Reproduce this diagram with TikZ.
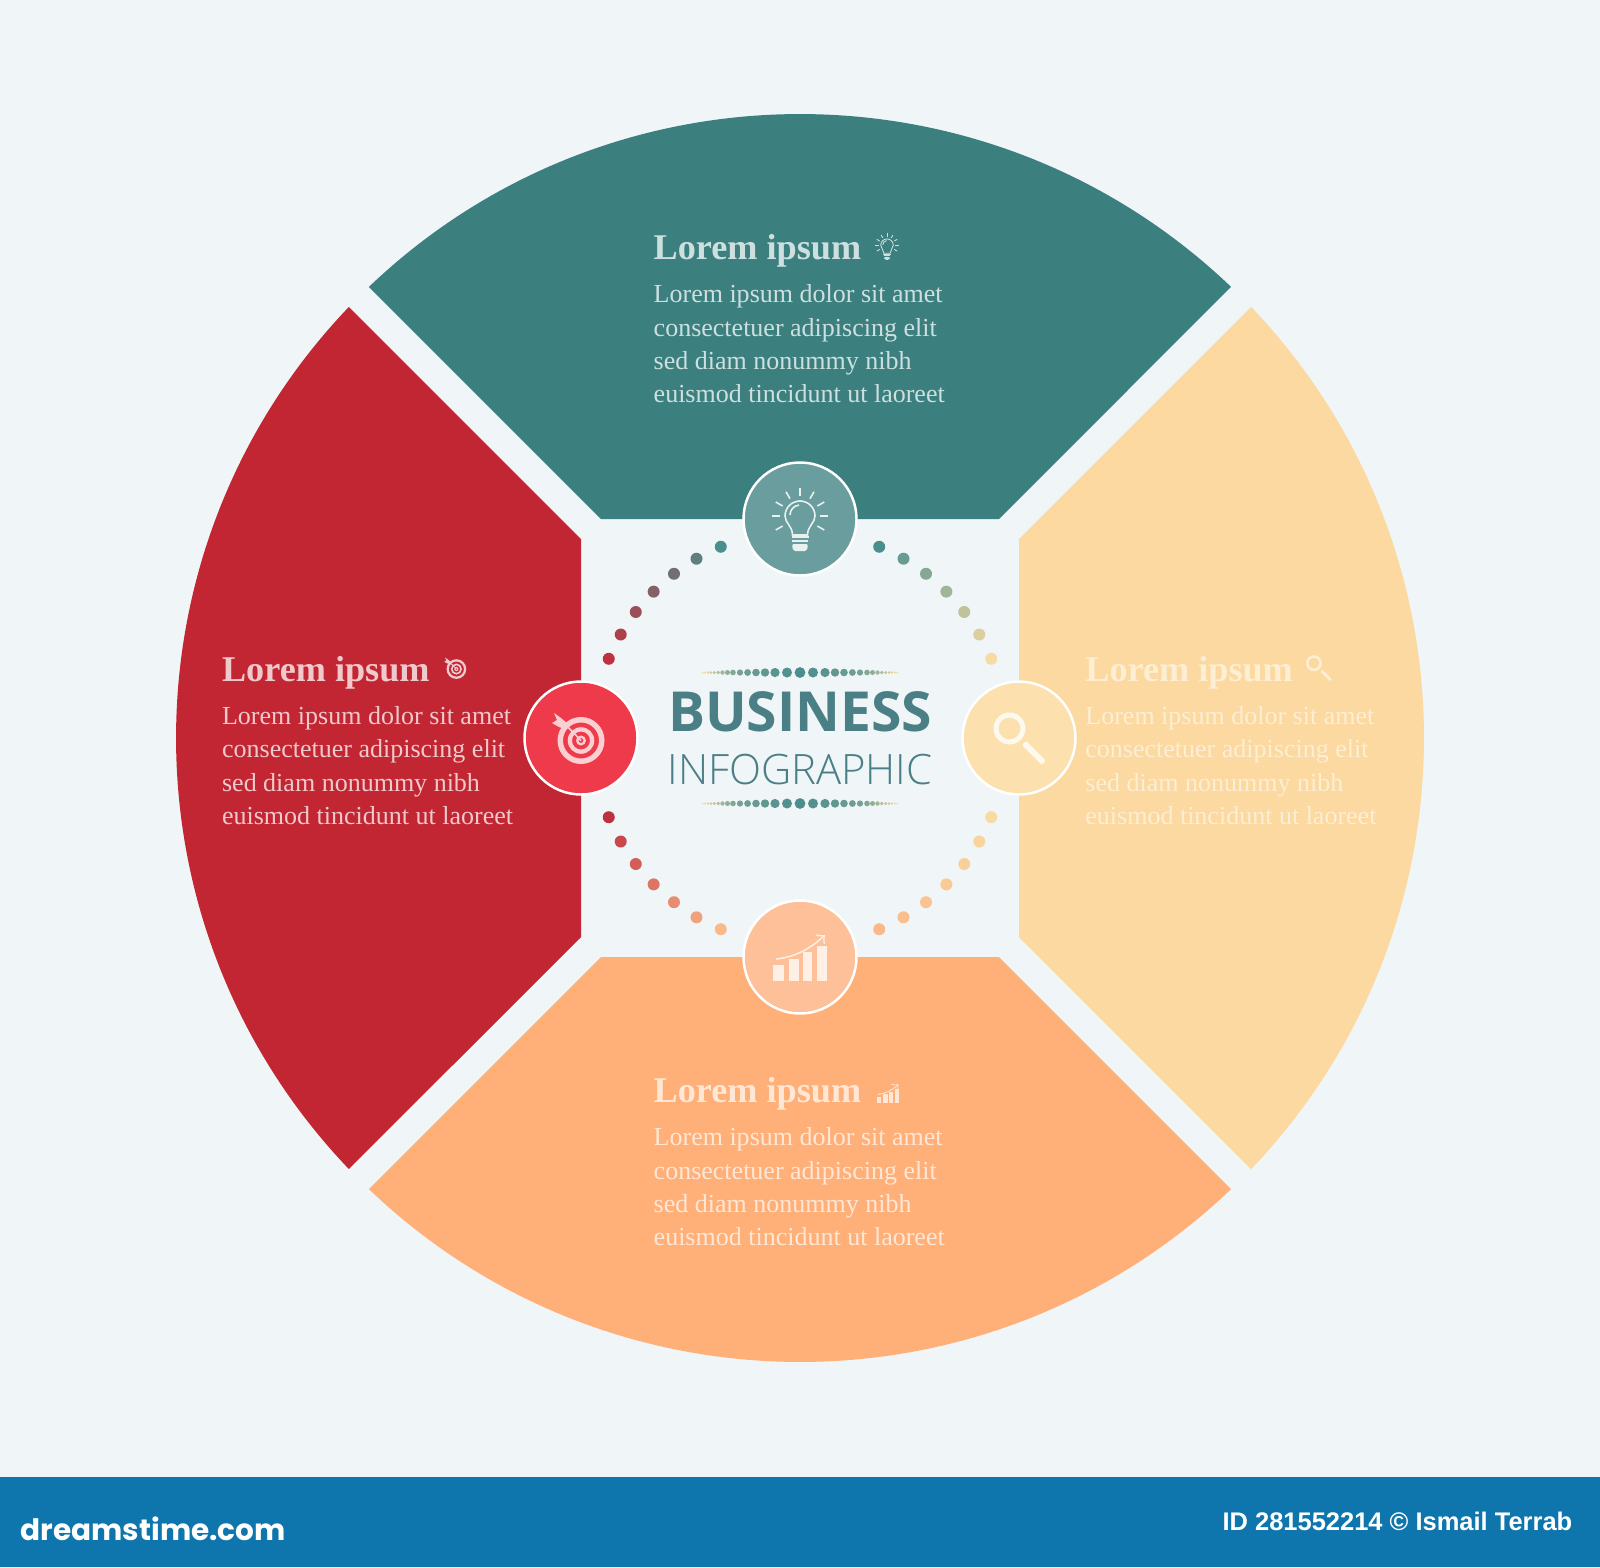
\documentclass[tikz,border=0pt]{standalone}
\usepackage{fontspec}
\usepackage{tikz}
\usetikzlibrary{calc}
\setmainfont{Liberation Serif}
\newfontfamily\titlefont{Open Sans}
\newfontfamily\thinfont{Open Sans Light}
\newfontfamily\logofont{Poppins}
\newfontfamily\idfont{Liberation Sans}

\definecolor{paper}{HTML}{F0F5F8}
\definecolor{banner}{HTML}{0E76AD}
\definecolor{sectorteal}{HTML}{3B7F7F}
\definecolor{sectorred}{HTML}{C22632}
\definecolor{sectorcream}{HTML}{FBD9A0}
\definecolor{sectororange}{HTML}{FFAF78}
\definecolor{circleteal}{HTML}{6A9E9E}
\definecolor{circlered}{HTML}{EE3A4A}
\definecolor{circlecream}{HTML}{FCE0AE}
\definecolor{circleorange}{HTML}{FEC098}
\definecolor{dotteal}{HTML}{4B8E8E}
\definecolor{dotred}{HTML}{C0313F}
\definecolor{dotcream}{HTML}{F8DBA2}
\definecolor{dotorange}{HTML}{FBB98A}
\definecolor{inkteal}{HTML}{4A7F85}

\newcommand{\loremhead}{Lorem ipsum}
\newcommand{\loremlines}{Lorem ipsum dolor sit amet\\consectetuer adipiscing elit\\sed diam nonummy nibh\\euismod tincidunt ut laoreet}

\tikzset{
    headtext/.style={anchor=base west, inner sep=0pt, font=\fontsize{10.3}{12}\selectfont\bfseries},
    bodytext/.style={anchor=north west, inner sep=0pt, align=left, font=\fontsize{7.4}{9.5}\selectfont},
    iconcircle/.style={circle, draw=white, line width=0.7pt, minimum size=1.13cm, inner sep=0pt},
    bigicon/.style={line width=0.45pt},
    smallicon/.style={scale=0.42, line width=0.25pt},
    bulbicon/.pic={
        \draw (-.075,-.16) .. controls (-.075,-.07) and (-.15,-.04) .. (-.15,.03)
            arc[start angle=180, end angle=0, radius=.15]
            .. controls (.15,-.04) and (.075,-.07) .. (.075,-.16) -- cycle;
        \draw (-.1,.04) arc[start angle=180, end angle=95, radius=.1];
        \foreach \a in {-30,0,...,210}
            \draw[shift={(0,.03)}] (\a:.2) -- (\a:.28);
        \fill (-.085,-.19) rectangle (.085,-.17);
        \fill (-.08,-.23) rectangle (.08,-.21);
        \fill[rounded corners=.02cm] (-.08,-.25) -- (.08,-.25) -- (.07,-.32) -- (-.07,-.32) -- cycle;
    },
    targeticon/.pic={
        \fill[even odd rule] (0,-.025) circle (.235) circle (.18)
            (0,-.025) circle (.133) circle (.09) (0,-.025) circle (.05) circle (.025);
        \draw (0,-.025) -- (-.17,.15);
        \fill (-.16,.09) -- (-.22,.11) -- (-.29,.15) -- (-.24,.18) -- (-.27,.25) -- (-.2,.2) -- (-.14,.15) -- cycle;
    },
    lensicon/.pic={
        \fill[even odd rule] (-.095,.095) circle (.16) circle (.11);
        \fill[rotate=-45, rounded corners=.02cm] (.07,-.03) rectangle (.35,.03);
    },
    barsicon/.pic={
        \fill (-.268,-.237) rectangle (-.164,-.084);
        \fill (-.114,-.237) rectangle (-.011,-.02);
        \fill (.027,-.237) rectangle (.122,.046);
        \fill (.17,-.237) rectangle (.268,.107);
        \draw[->] (-.24,-.02) .. controls (-.05,0) and (.1,.08) .. (.25,.22);
    }
}

\begin{document}
\begin{tikzpicture}
    \coordinate (o) at (0,0);
    % page and bottom strip
    \fill[paper] (-8,-8.29) rectangle (8,7.38);
    \useasboundingbox (-8,-8.29) rectangle (8,7.38);
    \fill[banner] (-8,-8.29) rectangle (8,-7.39);

    % the four sectors
    \fill[sectorteal] (-1.99,2.19) -- (-4.311,4.511)
        arc[start angle=133.7, end angle=46.3, radius=6.24] -- (1.99,2.19) -- cycle;
    \fill[sectorred] (-2.19,1.99) -- (-4.511,4.311)
        arc[start angle=136.3, end angle=223.7, radius=6.24] -- (-2.19,-1.99) -- cycle;
    \fill[sectororange] (-1.99,-2.19) -- (-4.311,-4.511)
        arc[start angle=226.3, end angle=313.7, radius=6.24] -- (1.99,-2.19) -- cycle;
    \fill[sectorcream] (2.19,-1.99) -- (4.511,-4.311)
        arc[start angle=-43.7, end angle=43.7, radius=6.24] -- (2.19,1.99) -- cycle;

    % ring of dots
    \foreach \n/\p in {0/100,1/83,2/67,3/50,4/33,5/17,6/0}{
        \pgfmathsetmacro{\t}{7.5*\n}
        \fill[dotteal!\p!dotred] (112.5+\t:2.07) circle (.06);
        \fill[dotteal!\p!dotcream] (67.5-\t:2.07) circle (.06);
        \fill[dotorange!\p!dotred] (247.5-\t:2.07) circle (.06);
        \fill[dotorange!\p!dotcream] (292.5+\t:2.07) circle (.06);
    }

    % dotted rules around the title
    \foreach \y in {.655,-.655}{
        \fill[dotteal] (0,\y) circle (.054);
        \foreach \x/\r/\p in {.13/.05/96,.25/.046/92,.35/.042/88,.44/.038/84,.524/.034/80,
            .6/.031/75,.67/.028/68,.725/.025/60,.775/.022/50,.817/.019/40,.857/.017/30,
            .89/.015/20,.92/.013/10,.95/.011/5,.97/.01/0}{
            \fill[dotteal!\p!dotcream] (\x,\y) circle (\r);
            \fill[dotteal!\p!dotcream] (-\x,\y) circle (\r);
        }
    }

    % title
    \node[text=inkteal, inner sep=0pt, font=\fontsize{15.7}{18}\selectfont\titlefont\bfseries] (business) at (0,.26) {BUSINESS};
    \node[text=inkteal, inner sep=0pt, font=\fontsize{11.9}{14}\selectfont\thinfont] (infographic) at (0,-.32) {INFOGRAPHIC};

    % circles on the ring
    \node[iconcircle, fill=circleteal] (bulbcircle) at (0,2.19) {};
    \node[iconcircle, fill=circlered] (targetcircle) at (-2.19,0) {};
    \node[iconcircle, fill=circlecream] (lenscircle) at (2.19,0) {};
    \node[iconcircle, fill=circleorange] (barscircle) at (0,-2.19) {};
    \pic[bigicon, color=white!85!circleteal] at (bulbcircle) {bulbicon};
    \pic[bigicon, color=white!75!circlered] at (targetcircle) {targeticon};
    \pic[bigicon, color=white!80!circlecream] at (lenscircle) {lensicon};
    \pic[bigicon, color=white!75!circleorange] at (barscircle) {barsicon};

    % top text
    \node[headtext, text=white!75!sectorteal] (tophead) at (-1.47,4.785) {\loremhead};
    \node[bodytext, text=white!75!sectorteal] (topbody) at ($(tophead.base west)+(0,-.245)$) {\loremlines};
    \pic[smallicon, color=white!75!sectorteal] at ($(tophead.base west)+(2.34,.13)$) {bulbicon};

    % left text
    \node[headtext, text=white!75!sectorred] (lefthead) at (-5.786,.57) {\loremhead};
    \node[bodytext, text=white!75!sectorred] (leftbody) at ($(lefthead.base west)+(0,-.245)$) {\loremlines};
    \pic[smallicon, color=white!75!sectorred] at ($(lefthead.base west)+(2.35,.13)$) {targeticon};

    % right text
    \node[headtext, text=white!55!sectorcream] (righthead) at (2.847,.57) {\loremhead};
    \node[bodytext, text=white!55!sectorcream] (rightbody) at ($(righthead.base west)+(0,-.245)$) {\loremlines};
    \pic[smallicon, scale=1.2, color=white!55!sectorcream] at ($(righthead.base west)+(2.34,.13)$) {lensicon};

    % bottom text
    \node[headtext, text=white!70!sectororange] (bottomhead) at (-1.47,-3.645) {\loremhead};
    \node[bodytext, text=white!70!sectororange] (bottombody) at ($(bottomhead.base west)+(0,-.245)$) {\loremlines};
    \pic[smallicon, color=white!70!sectororange] at ($(bottomhead.base west)+(2.35,.09)$) {barsicon};

    % strip texts
    \node[anchor=base west, inner sep=0pt, text=white, font=\fontsize{8.4}{10}\selectfont\logofont\bfseries] (logo) at (-7.8,-8.02) {dreamstime.com};
    \node[anchor=base east, inner sep=0pt, text=white, font=\fontsize{7.25}{8}\selectfont\idfont\bfseries] (imageid) at (7.73,-7.92) {ID 281552214 © Ismail Terrab};
\end{tikzpicture}
\end{document}
